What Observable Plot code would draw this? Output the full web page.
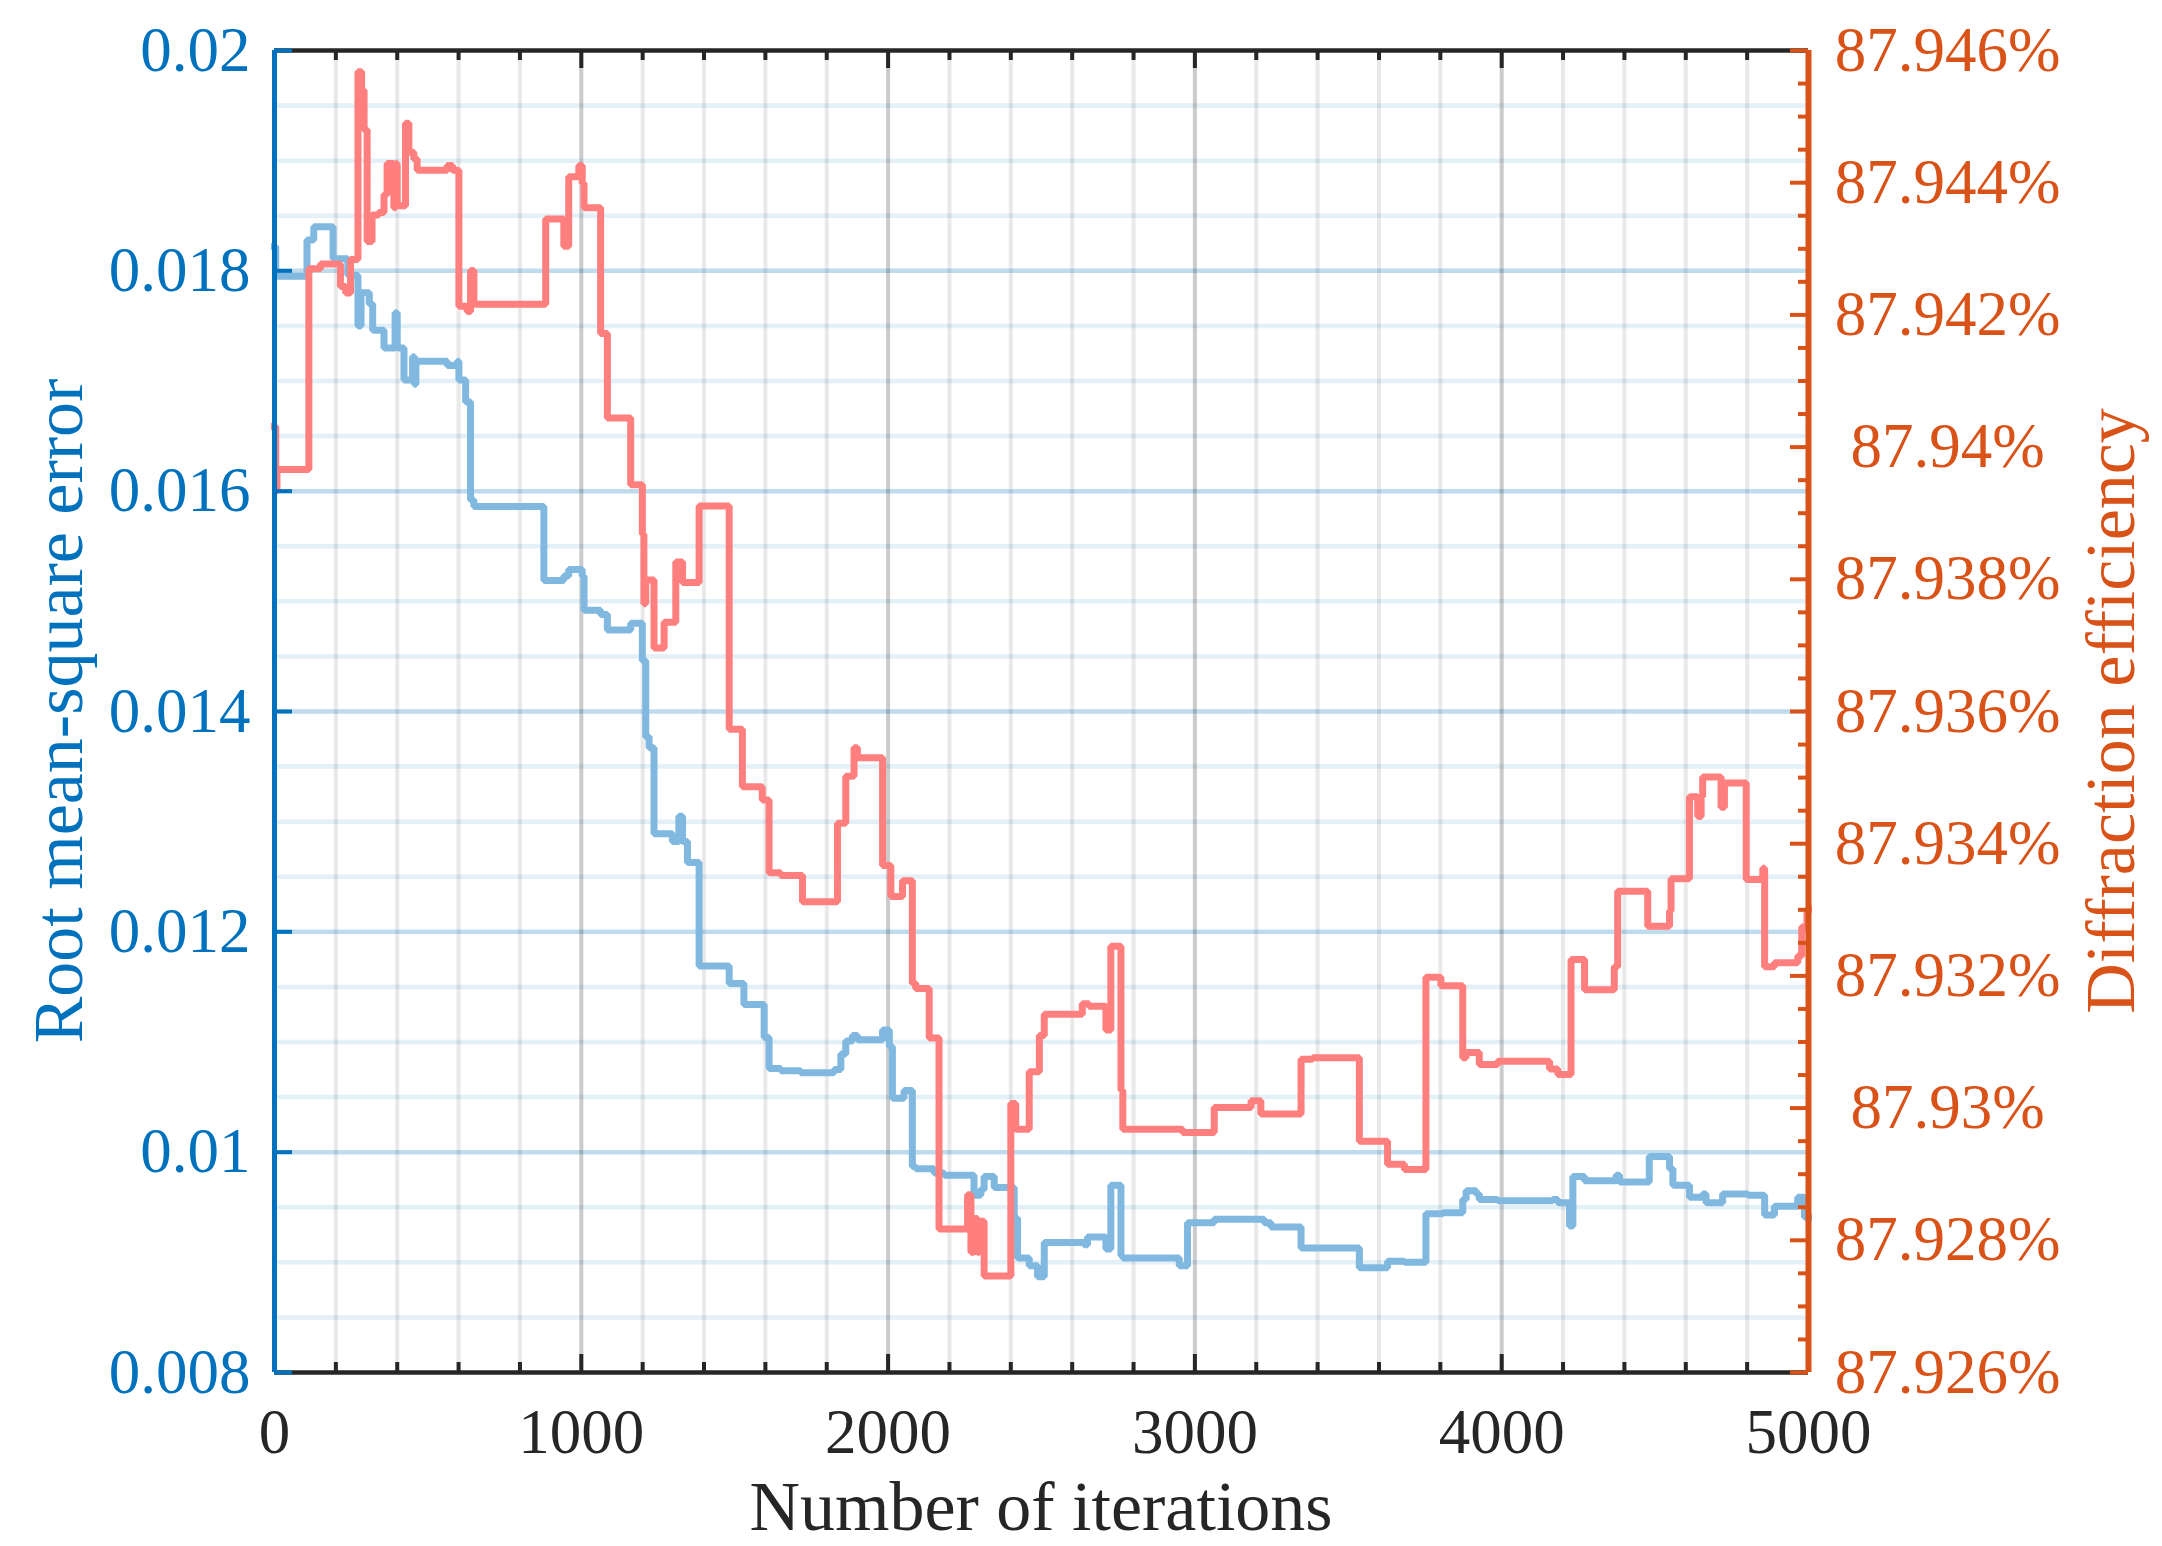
<!DOCTYPE html>
<html>
<head>
<meta charset="utf-8">
<script src="https://cdn.jsdelivr.net/npm/d3@7"></script>
<script src="https://cdn.jsdelivr.net/npm/@observablehq/plot@0.6"></script>
<style>
  html, body { margin: 0; padding: 0; background: #ffffff; }
</style>
</head>
<body>
<div id="chart"></div>
<script>
// ---------------- DATA ----------------
// Root mean-square error (left axis), step changes at these iterations
const iterBlue = [0, 4, 106, 128, 191, 239, 272, 282, 309, 320, 357, 393, 400, 422, 450, 456, 461, 563, 596, 601, 623, 639, 650, 878, 943, 959, 1003, 1009, 1063, 1085, 1161, 1199,
  1210, 1221, 1237, 1297, 1318, 1330, 1346, 1384, 1482, 1530, 1596, 1612, 1650, 1715, 1824, 1846, 1862, 1884, 1900, 1982, 2004, 2014, 2052, 2079, 2090, 2150, 2183, 2280, 2302, 2313, 2346, 2411, 2422, 2460, 2487, 2509, 2639, 2650, 2710, 2726, 2759, 2765,
  2949, 2976, 3063, 3226, 3248, 3346, 3536, 3628, 3683, 3753, 3808, 3873, 3884, 3917, 3927, 3987, 4166, 4183, 4221, 4232, 4270, 4373, 4384, 4481, 4547, 4558, 4612, 4655, 4666, 4720, 4802, 4857, 4889, 4965, 4987, 5000];
const rmse = [0.01822, 0.01795, 0.01828, 0.0184, 0.01811, 0.01796, 0.0175, 0.0178, 0.0177, 0.01746, 0.0173, 0.01762, 0.0173, 0.01701, 0.01722, 0.01697, 0.01718, 0.01714, 0.01718, 0.01701, 0.01681, 0.01592, 0.01586, 0.01519, 0.01523, 0.01529, 0.01523, 0.01492, 0.01488, 0.01474, 0.0148, 0.01446,
  0.01377, 0.01367, 0.01289, 0.01282, 0.01305, 0.01282, 0.01263, 0.01169, 0.01153, 0.01134, 0.01104, 0.01076, 0.01074, 0.01072, 0.01075, 0.01089, 0.01101, 0.01106, 0.01102, 0.01111, 0.01096, 0.01049, 0.01056, 0.00987, 0.00985, 0.00981, 0.00979, 0.00961, 0.00966, 0.00978, 0.00968, 0.0094, 0.00904, 0.00897, 0.00887, 0.00918, 0.00916, 0.00923, 0.00912, 0.0097, 0.00906, 0.00904,
  0.00897, 0.00936, 0.00939, 0.00936, 0.00932, 0.00913, 0.00895, 0.00901, 0.009, 0.00944, 0.00945, 0.00957, 0.00965, 0.00962, 0.00957, 0.00956, 0.00957, 0.00954, 0.00933, 0.00978, 0.00974, 0.00979, 0.00973, 0.00996, 0.00985, 0.0097, 0.00959, 0.00962, 0.00954, 0.00962, 0.00961, 0.00943, 0.00951, 0.00959, 0.00941, 0.00941];

// Diffraction efficiency in % (right axis)
const iterRed = [0, 4, 8, 112, 150, 215, 232, 248, 272, 284, 292, 302, 318, 340, 357, 367, 389, 395, 400, 427, 438, 454, 465, 563, 580, 601, 628, 639, 650, 884, 943, 959, 992, 1003, 1009, 1063, 1085, 1161, 1199,
  1204, 1210, 1237, 1270, 1308, 1330, 1384, 1482, 1525, 1590, 1612, 1650, 1721, 1835, 1862, 1889, 1900, 1982, 2009, 2047, 2079, 2090, 2134, 2166, 2259, 2270, 2280, 2291, 2297, 2313, 2400, 2416, 2460, 2493, 2509, 2633, 2655, 2710, 2726, 2759, 2765,
  2960, 3063, 3183, 3215, 3346, 3384, 3536, 3628, 3683, 3753, 3802, 3873, 3884, 3927, 3987, 4156, 4183, 4226, 4270, 4367, 4378, 4476, 4547, 4552, 4612, 4639, 4650, 4655, 4715, 4726, 4797, 4851, 4857, 4889, 4965, 4978, 4995, 5000];
const diffEff = [87.94031, 87.93933, 87.93966, 87.9427, 87.94277, 87.94243, 87.94233, 87.94284, 87.94568, 87.9454, 87.9448, 87.94311, 87.94351, 87.94355, 87.94382, 87.94429, 87.94362, 87.94429, 87.94365, 87.9449, 87.94446, 87.94436, 87.94419, 87.94426, 87.94419, 87.94213, 87.94205, 87.94267, 87.94216, 87.94345, 87.94304, 87.94409, 87.94426, 87.94399, 87.94362, 87.94172, 87.94044, 87.93943, 87.93868,
  87.93763, 87.93799, 87.93696, 87.93735, 87.93826, 87.93795, 87.93911, 87.93573, 87.93486, 87.93466, 87.93356, 87.93352, 87.93312, 87.93431, 87.93502, 87.93545, 87.9353, 87.93367, 87.9332, 87.93344, 87.93189, 87.93181, 87.93106, 87.92817, 87.92869, 87.92782, 87.92833, 87.92782, 87.92829, 87.92746, 87.93007, 87.92968, 87.93055, 87.9311, 87.93142, 87.93158, 87.93154, 87.93118, 87.93245, 87.93027, 87.92968,
  87.92963, 87.93001, 87.93011, 87.92991, 87.93074, 87.93076, 87.9295, 87.92915, 87.92907, 87.93198, 87.93185, 87.93076, 87.93084, 87.93066, 87.93071, 87.93059, 87.93051, 87.93225, 87.93179, 87.93214, 87.93328, 87.93275, 87.93298, 87.93347, 87.93471, 87.93441, 87.93471, 87.93501, 87.93455, 87.93492, 87.93346, 87.93363, 87.93214, 87.9322, 87.9323, 87.93274, 87.93301, 87.93301];

// Axes / ticks
const xDomain = [0, 5000];
const rmseDomain = [0.008, 0.02];
const deDomain = [87.926, 87.946];
const xTickVals = [0, 1000, 2000, 3000, 4000, 5000];
const xTickLabels = ["0", "1000", "2000", "3000", "4000", "5000"];
const leftTickVals = [0.008, 0.01, 0.012, 0.014, 0.016, 0.018, 0.02];
const leftTickLabels = ["0.008", "0.01", "0.012", "0.014", "0.016", "0.018", "0.02"];
const rightTickVals = [87.926, 87.928, 87.93, 87.932, 87.934, 87.936, 87.938, 87.94, 87.942, 87.944, 87.946];
const rightTickLabels = ["87.926%", "87.928%", "87.93%", "87.932%", "87.934%", "87.936%", "87.938%", "87.94%", "87.942%", "87.944%", "87.946%"];
const xLabel = "Number of iterations";
const leftLabel = "Root mean-square error";
const rightLabel = "Diffraction efficiency";

// ---------------- LAYOUT / STYLE ----------------
const W = 2162, H = 1546;
const mL = 274, mR = 354, mT = 50, mB = 174;
const fw = W - mL - mR, fh = H - mT - mB;
const cLeft = "#0072BD", cRight = "#D95319", cDark = "#262626";
const cBlueLine = "#80B8E0", cRedLine = "#FF7F7F";
const fontFamily = "'Liberation Serif', 'Times New Roman', serif";
const tickFont = 63, titleFont = 70;

// map right-axis values onto the left scale
const toLeft = v => rmseDomain[0] + (v - deDomain[0]) / (deDomain[1] - deDomain[0]) * (rmseDomain[1] - rmseDomain[0]);

const blueData = iterBlue.map((x, i) => ({x, y: rmse[i]}));
const redData = iterRed.map((x, i) => ({x, y: toLeft(diffEff[i])}));

const xAll200 = d3.range(1, 25).map(k => k * 200);
const xMinor = xAll200.filter(v => v % 1000 !== 0);
const xMajor = xAll200.filter(v => v % 1000 === 0);
const yMinor = d3.range(17, 40).filter(k => k % 4 !== 0).map(k => k * 0.0005);
const yMajor = [0.01, 0.012, 0.014, 0.016, 0.018];
const rightMinor = d3.range(1, 40).filter(k => k % 4 !== 0).map(k => toLeft(deDomain[0] + k * 0.0005));
const rightMajor = rightTickVals.map(toLeft);

const chart = Plot.plot({
  width: W,
  height: H,
  marginLeft: mL,
  marginRight: mR,
  marginTop: mT,
  marginBottom: mB,
  style: {background: "#ffffff", fontFamily, overflow: "visible"},
  x: {domain: xDomain, axis: null},
  y: {domain: rmseDomain, axis: null},
  marks: [
    // grid
    Plot.ruleY(yMinor, {stroke: cLeft, strokeOpacity: 0.11, strokeWidth: 4.5}),
    Plot.ruleX(xMinor, {stroke: cDark, strokeOpacity: 0.1, strokeWidth: 4}),
    Plot.ruleY(yMajor, {stroke: cLeft, strokeOpacity: 0.25, strokeWidth: 4.5}),
    Plot.ruleX(xMajor, {stroke: cDark, strokeOpacity: 0.24, strokeWidth: 4}),
    // data
    Plot.line(blueData, {x: "x", y: "y", curve: "step-after", stroke: cBlueLine, strokeWidth: 7, strokeLinejoin: "miter", strokeLinecap: "square"}),
    Plot.line(redData, {x: "x", y: "y", curve: "step-after", stroke: cRedLine, strokeWidth: 7, strokeLinejoin: "miter", strokeLinecap: "square"}),
    // frame lines
    Plot.ruleY([rmseDomain[1]], {stroke: cDark, strokeWidth: 4.5}),
    Plot.ruleY([rmseDomain[0]], {stroke: cDark, strokeWidth: 4.5}),
    Plot.ruleX([xDomain[0]], {stroke: cLeft, strokeWidth: 5}),
    Plot.ruleX([xDomain[1]], {stroke: cRight, strokeWidth: 6}),
    // x ticks (top and bottom, inward)
    Plot.ruleX(xMinor, {stroke: cDark, strokeWidth: 4, insetBottom: fh - 10}),
    Plot.ruleX(xMajor, {stroke: cDark, strokeWidth: 4, insetBottom: fh - 18}),
    Plot.ruleX(xMinor, {stroke: cDark, strokeWidth: 4, insetTop: fh - 10}),
    Plot.ruleX(xMajor, {stroke: cDark, strokeWidth: 4, insetTop: fh - 18}),
    // left ticks
    Plot.ruleY(leftTickVals, {stroke: cLeft, strokeWidth: 4, insetRight: fw - 18}),
    // right ticks
    Plot.ruleY(rightMinor, {stroke: cRight, strokeWidth: 4, insetLeft: fw - 10}),
    Plot.ruleY(rightMajor, {stroke: cRight, strokeWidth: 4, insetLeft: fw - 18}),
    // tick labels
    Plot.text(xTickVals, {x: d => d, text: (d, i) => xTickLabels[i], frameAnchor: "bottom", lineAnchor: "top", dy: 36, fontSize: tickFont, fill: cDark}),
    Plot.text(leftTickVals, {y: d => d, text: (d, i) => leftTickLabels[i], frameAnchor: "left", textAnchor: "end", dx: -24, fontSize: tickFont, fill: cLeft}),
    Plot.text(rightTickVals, {y: d => toLeft(d), text: (d, i) => rightTickLabels[i], frameAnchor: "right", textAnchor: "middle", dx: 139, fontSize: tickFont, fill: cRight})
  ]
});
document.getElementById("chart").appendChild(chart);

// axis titles (placed in the margins of the same SVG)
const svg = d3.select(chart);
const cx = mL + fw / 2, cy = mT + fh / 2;
const titles = svg.append("g").attr("font-family", fontFamily).attr("font-size", titleFont).attr("text-anchor", "middle");
titles.append("text").attr("transform", `translate(${cx},${H - 16})`).attr("fill", cDark).text(xLabel);
titles.append("text").attr("transform", `translate(82,${cy}) rotate(-90)`).attr("fill", cLeft).text(leftLabel);
titles.append("text").attr("transform", `translate(2134,${cy}) rotate(-90)`).attr("fill", cRight).text(rightLabel);
</script>
</body>
</html>
